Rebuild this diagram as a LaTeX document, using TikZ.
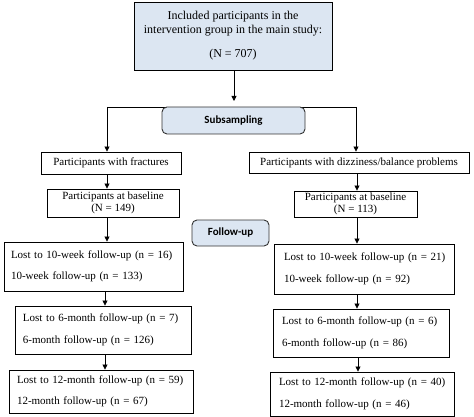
\documentclass[tikz,border=0pt]{standalone}
\usepackage{fontspec}
\setmainfont{Liberation Serif}
\newfontfamily\calib{Carlito}
\usetikzlibrary{arrows.meta}
\definecolor{boxblue}{HTML}{DCE6F2}
\begin{document}
\begin{tikzpicture}[x=1pt,y=-1pt,
  box/.style={draw=black,line width=0.9pt,inner sep=0pt,align=center,font=\fontsize{11}{12}\selectfont},
  topbox/.style={box,fill=boxblue,font=\fontsize{12}{14}\selectfont},
  pairbox/.style={draw=black,line width=0.9pt,inner ysep=0pt,inner xsep=8pt,align=left,font=\fontsize{11}{13}\selectfont},
  tagbox/.style={draw=black!80,line width=0.9pt,fill=boxblue,rounded corners=5pt,inner sep=0pt,font=\calib\bfseries\fontsize{11}{13}\selectfont},
  arr/.style={line width=0.8pt,-{Triangle[length=5pt,width=5pt]}},
  ln/.style={line width=0.8pt}]
\useasboundingbox (0,0) rectangle (474,417);
% top
\node[topbox,minimum width=198pt,minimum height=68pt] (top) at (233,36)
  {Included participants in the\\intervention group in the main study:\\[10pt](N = 707)};
\coordinate (mid) at (234,101);
\coordinate (L) at (107,107);
\coordinate (R) at (356,107);
\coordinate (cL) at (107,0);
\coordinate (cL2) at (105,0);
\coordinate (cR) at (357,0);
\coordinate (cR2) at (358,0);
\draw[arr] (top.south -| mid) -- (mid);
\draw[ln] (L) -- (R);
\node[tagbox,minimum width=143pt,minimum height=27pt] (sub) at (233.5,120.5) {Subsampling};
% left column
\node[box,minimum width=140pt,minimum height=22pt] (frac) at (111,163) {Participants with fractures};
\node[box,minimum width=132pt,minimum height=28pt] (baseL) at (113,203) {Participants at baseline\\(N = 149)};
\node[pairbox,text width=165pt,minimum height=49pt,inner xsep=7pt] (wkL) at (93.5,266.5)
  {\mbox{Lost to 10-week follow-up (n = 16)}\\[8.5pt]\mbox{10-week follow-up (n = 133)}};
\node[pairbox,text width=160pt,minimum height=48pt] (moL) at (103,330)
  {\mbox{Lost to 6-month follow-up (n = 7)}\\[8.5pt]\mbox{6-month follow-up (n = 126)}};
\node[pairbox,text width=168pt,minimum height=43pt] (yrL) at (101,391.5)
  {\mbox{Lost to 12-month follow-up (n = 59)}\\[8.5pt]\mbox{12-month follow-up (n = 67)}};
\node[tagbox,minimum width=77pt,minimum height=26pt] (fol) at (230.5,233) {Follow-up};
% right column
\node[box,minimum width=220pt,minimum height=21pt] (diz) at (359,162.5) {Participants with dizziness/balance problems};
\node[box,minimum width=123pt,minimum height=26pt] (baseR) at (355.5,204) {Participants at baseline\\(N = 113)};
\node[pairbox,text width=160pt,minimum height=50pt,inner xsep=10pt] (wkR) at (364,269)
  {\mbox{Lost to 10-week follow-up (n = 21)}\\[8.5pt]\mbox{10-week follow-up (n = 92)}};
\node[pairbox,text width=158pt,minimum height=48pt,inner xsep=9pt] (moR) at (361,333)
  {\mbox{Lost to 6-month follow-up (n = 6)}\\[8.5pt]\mbox{6-month follow-up (n = 86)}};
\node[pairbox,text width=166pt,minimum height=44pt,inner xsep=9pt] (yrR) at (362,394)
  {\mbox{Lost to 12-month follow-up (n = 40)}\\[8.5pt]\mbox{12-month follow-up (n = 46)}};
% arrows
\draw[arr] (L) -- (frac.north -| L);
\draw[arr] (R) -- (diz.north -| R);
\draw[arr] (frac.south -| cL) -- (baseL.north -| cL);
\draw[arr] (baseL.south -| cL) -- (wkL.north -| cL);
\draw[arr] (wkL.south -| cL2) -- (moL.north -| cL2);
\draw[arr] (moL.south -| cL2) -- (yrL.north -| cL2);
\draw[arr] (diz.south -| cR) -- (baseR.north -| cR);
\draw[arr] (baseR.south -| cR) -- (wkR.north -| cR);
\draw[arr] (wkR.south -| cR) -- (moR.north -| cR);
\draw[arr] (moR.south -| cR2) -- (yrR.north -| cR2);
\end{tikzpicture}
\end{document}
